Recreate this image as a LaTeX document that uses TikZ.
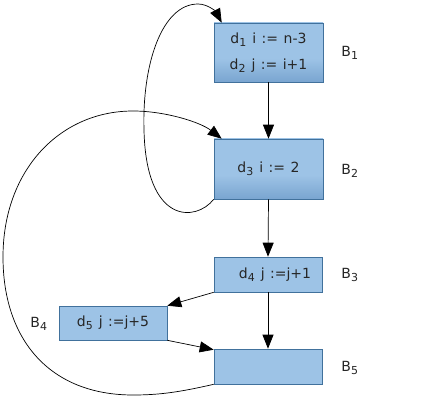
\documentclass[tikz,border=0pt]{standalone}
\usepackage{fontspec}
\setmainfont{DejaVu Sans}
\usetikzlibrary{arrows.meta}
\definecolor{boxfill}{HTML}{9DC3E6}
\definecolor{boxdark}{HTML}{4A7DB3}
\definecolor{boxline}{HTML}{41719C}
\pgfdeclareverticalshading{boxgrad}{100bp}{color(0bp)=(boxdark); color(8bp)=(boxdark!80!boxfill); color(45bp)=(boxfill); color(100bp)=(boxfill)}
\newcommand{\sbs}[1]{\textsubscript{\fontsize{11}{12}\selectfont #1}}
\newcommand{\boxfont}{\fontsize{14}{16}\selectfont\spaceskip=5.5pt\relax}
\begin{document}
\begin{tikzpicture}[x=1pt,y=-1pt,
  blk/.style={draw=boxline, line width=0.6pt, fill=boxfill, inner sep=0pt, font=\boxfont, text=black!85},
  grad/.style={blk, shading=boxgrad},
  lbl/.style={font=\fontsize{14}{16}\selectfont, text=black!85},
  arr/.style={line width=0.7pt, -{Triangle[length=14pt,width=11pt]}},
  lnk/.style={line width=0.7pt}]
\useasboundingbox (0,0) rectangle (436,414);
\node[grad, minimum width=109pt, minimum height=59pt, align=center] (b1) at (268.5,52.5) {d\sbs{1} i := n-3\\[10pt]d\sbs{2} j := i+1};
\node[grad, minimum width=109pt, minimum height=60pt] (b2) at (268.5,169) {d\sbs{3} i := 2};
\node[blk, minimum width=108pt, minimum height=35pt] (b3) at (268,274.5) {\hspace{14pt}d\sbs{4} j :=j+1};
\node[blk, minimum width=108pt, minimum height=34pt] (b4) at (113,323) {d\sbs{5} j :=j+5};
\node[blk, minimum width=108pt, minimum height=35pt] (b5) at (268,366.5) {};
\node[lbl] (l1) at (350,53) {B\sbs{1}};
\node[lbl] (l2) at (350,171) {B\sbs{2}};
\node[lbl] (l3) at (350,275) {B\sbs{3}};
\node[lbl] (l4) at (39,324) {B\sbs{4}};
\node[lbl] (l5) at (350,368) {B\sbs{5}};
\draw[arr] (b1.south) -- (b2.north);
\draw[arr] (b2.south) -- (b3.north);
\draw[arr] (b3.south) -- (b5.north);
\draw[arr] (b3.south west) -- (b4.north east);
\draw[arr] (b4.south east) -- ([yshift=-1pt]b5.north west);
\draw[arr] (b2.south west) .. controls (196,222) and (146,225) .. (144,130)
  .. controls (142,64) and (162,4) .. (198,4)
  .. controls (208,4) and (216,12) .. ([xshift=8pt]b1.north west);
\draw[arr] (b5.south west) .. controls (180,392) and (160,395) .. (133,395)
  .. controls (50,395) and (3,340) .. (3,257)
  .. controls (3,170) and (60,111) .. (133,111)
  .. controls (165,111) and (200,122) .. ([xshift=8pt]b2.north west);
\end{tikzpicture}
\end{document}
